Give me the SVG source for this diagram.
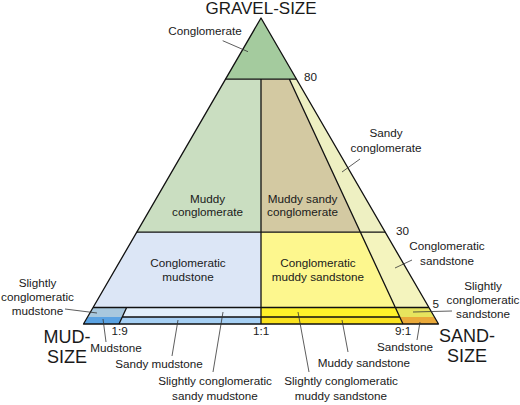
<svg xmlns="http://www.w3.org/2000/svg" width="520" height="405" viewBox="0 0 520 405">
<style>
text{font-family:"Liberation Sans",Arial,sans-serif;fill:#1a1a1a}
.l{font-size:11.7px;text-anchor:middle}
.n{font-size:11.7px}
.big{font-size:18px;text-anchor:middle}
.b{fill:none;stroke:#111;stroke-width:1.3;stroke-linejoin:round}
.ld{fill:none;stroke:#333;stroke-width:0.8}
</style>
<rect width="520" height="405" fill="#fff"/>
<g id="regions" stroke="none">
<polygon id="conglomerate" points="261,18 296.5,79.2 225.5,79.2" fill="#a4cb9e"/>
<polygon id="muddy-conglomerate" points="225.5,79.2 261,79.2 261,232.2 136.75,232.2" fill="#cadec1"/>
<polygon id="muddy-sandy-conglomerate" points="261,79.2 289.4,79.2 360.4,232.2 261,232.2" fill="#d3c9a2"/>
<polygon id="sandy-conglomerate" points="289.4,79.2 296.5,79.2 385.25,232.2 360.4,232.2" fill="#eef0c2"/>
<polygon id="conglomeratic-mudstone" points="136.75,232.2 261,232.2 261,307.5 93.07,307.5" fill="#dce6f6"/>
<polygon id="conglomeratic-muddy-sandstone" points="261,232.2 360.4,232.2 395.3,307.5 261,307.5" fill="#fdf78e"/>
<polygon id="conglomeratic-sandstone" points="360.4,232.2 385.25,232.2 428.93,307.5 395.3,307.5" fill="#f4f4be"/>
<polygon id="sl-cong-mudstone" points="93.07,307.5 126.66,307.5 122.25,317 88,317" fill="#a8c8de"/>
<polygon id="sl-cong-sandy-mudstone" points="126.66,307.5 261,307.5 261,317 122.25,317" fill="#e3f0fc"/>
<polygon id="sl-cong-muddy-sandstone" points="261,307.5 395.3,307.5 399.75,317 261,317" fill="#fff22a"/>
<polygon id="sl-cong-sandstone" points="395.3,307.5 428.93,307.5 434,317 399.75,317" fill="#e7e45e"/>
<polygon id="mudstone" points="88,317 122.25,317 119,324 83.5,324" fill="#5aa2e2"/>
<polygon id="sandy-mudstone" points="122.25,317 261,317 261,324 119,324" fill="#a6d0f4"/>
<polygon id="muddy-sandstone" points="261,317 399.75,317 403,324 261,324" fill="#fae21e"/>
<polygon id="sandstone" points="399.75,317 434,317 438.5,324 403,324" fill="#eaa93a"/>
</g>
<g id="connectors">
<polygon class="b" points="261,18 438.5,324 83.5,324"/>
<path class="b" d="M225.5,79.2H296.5M136.75,232.2H385.25M93.07,307.5H428.93M122.25,317H399.75M261,79.2V324M289.4,79.2L403,324M126.66,307.5L119,324"/>
<path class="ld" d="M222.7,40.7L248,51.7M65,309L97,313M103,319L106,342M178,320L172,356M223,312L213,372M298,312L309,372M342,320L348,352M420,322L417,340M413,312L452,311M395,268L412,260M342,172L360,159"/>
</g>
<g id="labels">
<text class="big" x="261" y="14" style="font-size:17px">GRAVEL-SIZE</text>
<text class="big" x="67" y="343">MUD-</text>
<text class="big" x="67" y="363">SIZE</text>
<text class="big" x="467" y="342">SAND-</text>
<text class="big" x="467" y="362">SIZE</text>
<text class="l" x="205" y="34.5">Conglomerate</text>
<text class="n" x="304" y="81">80</text>
<text class="n" x="396" y="235">30</text>
<text class="n" x="432.5" y="308">5</text>
<text class="n" x="111.5" y="335">1:9</text>
<text class="n" x="253" y="335">1:1</text>
<text class="n" x="395" y="335">9:1</text>
<text class="l" x="386" y="137">Sandy</text>
<text class="l" x="386" y="152">conglomerate</text>
<text class="l" x="207.5" y="203">Muddy</text>
<text class="l" x="207.5" y="216">conglomerate</text>
<text class="l" x="302.5" y="203">Muddy sandy</text>
<text class="l" x="302.5" y="216">conglomerate</text>
<text class="l" x="188" y="267">Conglomeratic</text>
<text class="l" x="188" y="281">mudstone</text>
<text class="l" x="318" y="267">Conglomeratic</text>
<text class="l" x="318" y="281">muddy sandstone</text>
<text class="l" x="447" y="250">Conglomeratic</text>
<text class="l" x="447" y="265">sandstone</text>
<text class="l" x="37.5" y="287">Slightly</text>
<text class="l" x="37.5" y="301">conglomeratic</text>
<text class="l" x="37.5" y="315">mudstone</text>
<text class="l" x="483" y="290">Slightly</text>
<text class="l" x="483" y="304">conglomeratic</text>
<text class="l" x="483" y="318">sandstone</text>
<text class="l" x="116" y="352">Mudstone</text>
<text class="l" x="159" y="368">Sandy mudstone</text>
<text class="l" x="215" y="385">Slightly conglomeratic</text>
<text class="l" x="215" y="400">sandy mudstone</text>
<text class="l" x="341" y="385">Slightly conglomeratic</text>
<text class="l" x="341" y="400">muddy sandstone</text>
<text class="l" x="364" y="367">Muddy sandstone</text>
<text class="l" x="405" y="351">Sandstone</text>
</g>
</svg>
